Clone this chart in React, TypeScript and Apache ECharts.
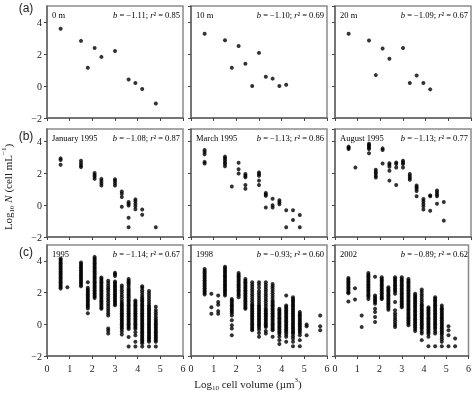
import React, { useEffect, useRef } from "react";
import * as echarts from "echarts";

type Pt = [number, number];
type Col = [number, number[]];

// Row (a): depth panels
const depth0m: Pt[] = [[0.6, 3.58], [1.5, 2.82], [1.8, 1.14], [2.1, 2.38], [2.4, 1.82], [3.0, 2.19], [3.6, 0.41], [3.9, 0.19], [4.2, -0.19], [4.8, -1.1]];
const depth10m: Pt[] = [[0.6, 3.27], [1.5, 2.86], [1.8, 1.14], [2.1, 2.5], [2.4, 1.39], [2.7, 0.0], [3.0, 2.07], [3.3, 0.58], [3.6, 0.46], [3.9, 0.0], [4.2, 0.08]];
const depth20m: Pt[] = [[0.6, 3.27], [1.5, 2.84], [1.8, 0.68], [2.1, 2.34], [2.4, 1.7], [3.0, 2.38], [3.3, 0.19], [3.6, 0.66], [3.9, 0.19], [4.2, -0.21]];

// Row (b): months of 1995
const jan1995: Col[] = [
  [0.6, [2.95, 2.85, 2.55]],
  [1.5, [2.8, 2.65, 2.5, 2.4]],
  [2.1, [2.03, 1.9, 1.8, 1.66]],
  [2.4, [1.66, 1.53, 1.39, 1.24]],
  [3.0, [1.64, 1.53, 1.39, 1.24]],
  [3.3, [0.87, 0.72, 0.52, -0.1]],
  [3.6, [0.21, 0.1, -0.02, -0.79, -1.39]],
  [3.9, [0.37, 0.25, 0.1, -0.06, -0.25]],
  [4.2, [-0.27, -0.6]],
  [4.8, [-1.39]],
];
const mar1995: Col[] = [
  [0.6, [3.48, 3.35, 3.21, 2.73, 2.63]],
  [1.5, [3.06, 2.96, 2.84, 2.71, 2.59, 2.46]],
  [1.8, [1.18]],
  [2.1, [2.67, 2.26, 2.0]],
  [2.4, [1.97, 1.86, 1.76, 1.28, 1.04]],
  [3.0, [2.07, 1.97, 1.86, 1.55, 1.28]],
  [3.3, [0.77, 0.68, 0.6, -0.14]],
  [3.6, [0.41, 0.0, -0.14]],
  [3.9, [0.31, 0.19, 0.06]],
  [4.2, [-0.31, -1.39]],
  [4.5, [-0.31, -0.93]],
  [4.8, [-0.62, -1.39]],
];
const aug1995: Col[] = [
  [0.6, [3.69, 3.62, 3.54]],
  [0.9, [2.38]],
  [1.5, [3.87, 3.79, 3.71, 3.62, 3.54, 3.27]],
  [1.8, [2.24, 2.11, 2.0, 1.86, 1.74]],
  [2.1, [3.58, 3.48, 2.63]],
  [2.4, [2.65, 2.55, 2.42, 2.17, 1.55]],
  [2.7, [2.69, 2.59, 2.38, 1.28]],
  [3.0, [2.8, 2.69, 2.59, 2.38]],
  [3.3, [1.97, 1.84, 1.72, 1.61]],
  [3.6, [1.24, 1.14, 1.04, 0.89, 0.56]],
  [3.9, [0.39, 0.25, 0.1, -0.06, -0.27]],
  [4.2, [0.62, 0.56, -0.35]],
  [4.5, [0.93, 0.81, 0.68, 0.56, 0.1]],
  [4.8, [0.21, -0.97]],
];

// Row (c): years
const year1995: Col[] = [
  [0.6, [4.15, 4.05, 3.95, 3.85, 3.75, 3.65, 3.55, 3.45, 3.35, 3.25, 3.15, 3.05, 2.95, 2.85, 2.75, 2.65, 2.55, 2.45, 2.35, 2.25]],
  [0.9, [2.33]],
  [1.5, [3.9, 3.8, 3.7, 3.6, 3.5, 3.4, 3.3, 3.2, 3.1, 3.0, 2.9, 2.8, 2.7, 2.6, 2.5, 2.4]],
  [1.8, [2.65, 2.3, 2.2, 2.1, 2.0, 1.9, 1.8, 1.7, 1.6, 1.5, 1.4, 1.3, 1.2, 1.1, 1.0, 0.7]],
  [2.1, [4.25, 4.15, 4.05, 3.95, 3.85, 3.75, 3.65, 3.55, 3.45, 3.35, 3.25, 3.15, 3.05, 2.95, 2.85, 2.75, 2.65, 2.55, 2.45, 2.35, 2.25, 2.15, 2.05, 1.95, 1.85, 1.75, 1.65]],
  [2.4, [2.95, 2.85, 2.75, 2.65, 2.55, 2.45, 2.35, 2.25, 2.15, 2.05, 1.95, 1.85, 1.75, 1.65, 1.55, 1.45, 1.35, 1.25, 1.15, 1.05, 0.98]],
  [2.7, [2.75, 2.6, 2.45, 2.3, 2.2, 2.05, 1.9, 1.75, 1.6, 1.45, 1.3, 1.15, 1.0, 0.85, 0.7, 0.56, -0.27, -0.4, -0.58]],
  [3.0, [3.25, 3.15, 3.05, 2.7, 2.6, 2.5, 2.4, 2.3, 2.2, 2.1, 2.0, 1.9, 1.8, 1.7, 1.6, 1.5, 1.4, 1.3, 1.2]],
  [3.3, [2.44, 2.3, 2.15, 2.0, 1.85, 1.7, 1.55, 1.4, 1.3, 1.2, 1.1, 1.0, 0.9, 0.8, 0.7, 0.6, 0.5, 0.4, 0.3, 0.2, 0.1, 0.0, -0.1, -0.2, -0.3, -0.45, -0.65]],
  [3.6, [2.85, 2.75, 2.65, 2.55, 2.45, 2.3, 2.2, 2.1, 2.0, 1.9, 1.8, 1.7, 1.6, 1.5, 1.4, 1.3, 1.2, 1.1, 1.0, 0.9, 0.8, 0.7, 0.6, 0.5, 0.4, 0.3, 0.2, 0.1, 0.0, -0.1, -0.2, -0.3, -0.8, -1.4]],
  [3.9, [1.5, 1.4, 1.3, 1.2, 1.1, 1.0, 0.9, 0.8, 0.7, 0.6, 0.5, 0.4, 0.3, 0.2, 0.1, 0.0, -0.1, -0.2, -0.3, -0.5, -0.7, -1.1, -1.4]],
  [4.2, [2.4, 2.3, 2.15, 2.0, 1.85, 1.7, 1.6, 1.5, 1.4, 1.3, 1.2, 1.1, 1.0, 0.9, 0.8, 0.7, 0.6, 0.5, 0.4, 0.3, 0.2, 0.1, 0.0, -0.1, -0.2, -0.3, -0.4, -0.5, -0.6, -0.7, -0.8, -0.9, -1.0, -1.1, -1.2, -1.4]],
  [4.5, [2.1, 1.95, 1.8, 1.65, 1.5, 1.35, 1.2, 1.1, 1.0, 0.9, 0.8, 0.7, 0.6, 0.5, 0.4, 0.3, 0.2, 0.1, 0.0, -0.1, -0.2, -0.3, -0.4, -0.5, -0.6, -0.7, -0.8, -0.9, -1.0, -1.1, -1.4]],
  [4.8, [1.1, 0.9, 0.75, 0.6, 0.45, 0.3, 0.2, 0.1, 0.0, -0.1, -0.2, -0.3, -0.4, -0.5, -0.6, -0.7, -0.8, -0.9, -1.0, -1.1, -1.4]],
];
const year1998: Col[] = [
  [0.6, [3.48, 3.38, 3.28, 3.18, 3.08, 2.98, 2.88, 2.78, 2.68, 2.58, 2.48, 2.38, 2.28, 2.18, 2.08, 1.98, 1.88]],
  [0.9, [1.92, 1.08, 0.67]],
  [1.2, [1.81, 1.4, 1.23, 0.83, 0.67]],
  [1.5, [3.63, 3.53, 3.43, 3.33, 3.23, 3.13, 3.03, 2.93, 2.83, 2.73, 2.63, 2.53, 2.43, 2.33, 2.23, 2.13, 2.03, 1.93, 1.81]],
  [1.8, [1.6, 1.5, 1.4, 1.3, 1.2, 1.1, 1.0, 0.9, 0.8, 0.7, 0.56, 0.25, -0.06, -0.27, -0.69]],
  [2.1, [3.23, 3.13, 3.03, 2.93, 2.83, 2.73, 2.63, 2.53, 2.43, 2.33, 2.23, 2.13, 2.03, 1.93, 1.83, 1.71]],
  [2.4, [2.85, 2.75, 2.65, 2.55, 2.45, 2.35, 2.25, 2.15, 2.05, 1.95, 1.85, 1.75, 1.65, 1.55, 1.45, 1.35, 1.25, 1.15, 1.05, 0.98]],
  [2.7, [2.65, 2.5, 2.35, 2.2, 2.05, 1.9, 1.75, 1.6, 1.45, 1.3, 1.2, 1.1, 1.0, 0.9, 0.8, 0.7, 0.6, 0.5, 0.4, 0.3, 0.2, 0.1, 0.0, -0.1, -0.2, -0.3, -0.38]],
  [3.0, [2.65, 2.5, 2.3, 2.1, 1.95, 1.8, 1.65, 1.5, 1.35, 1.2, 1.1, 1.0, 0.9, 0.8, 0.7, 0.6, 0.5, 0.4, 0.3, 0.2, 0.1, 0.0, -0.1, -0.2, -0.35, -0.55, -0.79]],
  [3.3, [2.65, 2.5, 2.35, 2.2, 2.05, 1.9, 1.75, 1.6, 1.45, 1.3, 1.15, 1.0, 0.9, 0.8, 0.7, 0.6, 0.5, 0.4, 0.3, 0.2, 0.1, 0.0, -0.1, -0.17, -0.42, -0.58]],
  [3.6, [2.54, 2.4, 2.25, 2.1, 1.95, 1.8, 1.65, 1.5, 1.4, 1.3, 1.2, 1.1, 1.0, 0.9, 0.8, 0.7, 0.6, 0.5, 0.4, 0.3, 0.2, 0.1, 0.0, -0.1, -0.2, -0.3, -0.38, -0.79]],
  [3.9, [0.98, 0.88, 0.78, 0.68, 0.58, 0.48, 0.38, 0.28, 0.18, 0.08, -0.02, -0.12, -0.22, -0.32, -0.42, -0.52, -0.62, -0.79, -1.0, -1.25]],
  [4.2, [1.81, 1.19, 1.09, 0.99, 0.89, 0.79, 0.69, 0.59, 0.49, 0.39, 0.29, 0.19, 0.09, -0.01, -0.11, -0.21, -0.31, -0.41, -0.51, -0.65, -0.79, -1.1]],
  [4.5, [1.71, 1.6, 1.5, 1.4, 1.3, 1.2, 1.1, 1.0, 0.9, 0.8, 0.7, 0.6, 0.5, 0.4, 0.3, 0.2, 0.1, 0.0, -0.1, -0.2, -0.3, -0.4, -0.5, -0.6, -0.75, -0.9, -1.1, -1.38]],
  [4.8, [0.77, 0.67, 0.57, 0.47, 0.37, 0.27, 0.17, 0.07, -0.03, -0.13, -0.23, -0.33, -0.43, -0.53, -0.69, -1.0, -1.38]],
  [5.1, [-0.02, -0.12, -0.69]],
  [5.7, [0.56, -0.12, -0.38]],
];
const year2002: Col[] = [
  [0.6, [2.92, 2.82, 2.72, 2.62, 2.52, 2.42, 2.32, 2.22, 2.12, 2.02, 1.96, 1.44]],
  [0.9, [2.27, 1.56]],
  [1.2, [0.56, -0.17]],
  [1.5, [3.23, 3.13, 3.03, 2.93, 2.83, 2.73, 2.63, 2.53, 2.43, 2.33, 2.23, 2.13, 2.03, 1.93, 1.83, 1.73, 1.6]],
  [1.8, [3.0, 1.81, 1.7, 1.6, 1.5, 1.4, 1.29, 0.98, 0.77, 0.46, 0.15]],
  [2.1, [2.96, 2.86, 2.76, 2.66, 2.56, 2.46, 2.36, 2.26, 2.16, 2.06, 1.96, 1.86, 1.76, 1.66, 1.6]],
  [2.4, [2.33, 2.23, 2.13, 2.03, 1.93, 1.83, 1.73, 1.63, 1.53, 1.43, 1.33, 1.23, 1.13, 1.03, 0.92]],
  [2.7, [2.96, 2.86, 2.76, 2.66, 2.56, 2.46, 2.36, 2.26, 2.16, 2.06, 1.92, 1.4, 0.88, 0.7, 0.55, 0.4, 0.25, 0.1, -0.05, -0.17]],
  [3.0, [2.96, 2.86, 2.76, 2.66, 2.56, 2.46, 2.36, 2.26, 2.16, 2.06, 1.96, 1.86, 1.76, 1.66, 1.56, 1.46, 1.36, 1.26, 1.16, 1.08]],
  [3.3, [2.85, 2.75, 2.65, 2.55, 2.45, 2.35, 2.25, 2.15, 2.05, 1.95, 1.85, 1.75, 1.65, 1.55, 1.45, 1.35, 1.25, 1.15, 1.05, 0.95, 0.85, 0.75, 0.65, 0.55, 0.45, 0.35, 0.25, 0.15, 0.05, -0.06]],
  [3.6, [1.92, 1.82, 1.72, 1.62, 1.52, 1.42, 1.32, 1.22, 1.12, 1.02, 0.92, 0.82, 0.72, 0.62, 0.52, 0.42, 0.32, 0.22, 0.12, 0.02, -0.08, -0.18, -0.3, -0.42]],
  [3.9, [2.2, 2.05, 1.9, 1.75, 1.6, 1.45, 1.3, 1.2, 1.1, 1.0, 0.9, 0.8, 0.7, 0.6, 0.5, 0.4, 0.3, 0.2, 0.1, 0.0, -0.1, -0.2, -0.3, -0.45, -0.58, -1.0]],
  [4.2, [1.08, 0.98, 0.88, 0.78, 0.68, 0.58, 0.48, 0.38, 0.28, 0.18, 0.08, -0.02, -0.12, -0.22, -0.32, -0.42, -0.52, -0.62, -0.79, -1.38]],
  [4.5, [1.71, 1.6, 1.5, 1.4, 1.3, 1.2, 1.1, 1.0, 0.9, 0.8, 0.7, 0.6, 0.5, 0.4, 0.3, 0.2, 0.1, 0.0, -0.1, -0.2, -0.3, -0.45, -0.58, -1.38]],
  [4.8, [1.19, 1.05, 0.95, 0.85, 0.75, 0.65, 0.55, 0.45, 0.35, 0.25, 0.15, 0.05, -0.05, -0.15, -0.25, -0.35, -0.45, -0.55, -0.65, -0.8, -0.95, -1.1, -1.38]],
  [5.1, [-0.12, -0.38, -0.69, -1.38]],
  [5.4, [-0.9, -1.38]],
];

const panelTitles = ["0 m", "10 m", "20 m", "January 1995", "March 1995", "August 1995", "1995", "1998", "2002"];
const slopes = ["−1.11", "−1.10", "−1.09", "−1.08", "−1.13", "−1.13", "−1.14", "−0.93", "−0.89"];
const r2s = ["0.85", "0.69", "0.67", "0.87", "0.86", "0.77", "0.67", "0.60", "0.62"];
const rowLetters = ["(a)", "(b)", "(c)"];
const xTicks = { min: 0, max: 6, interval: 1 };
const yMin = -2;
const yInterval = 2;

const flatten = (cols: Col[]): Pt[] => {
  const out: Pt[] = [];
  cols.forEach(([x, ys]) => ys.forEach((y) => out.push([x, y])));
  return out;
};

const panelData: Pt[][] = [
  depth0m, depth10m, depth20m,
  flatten(jan1995), flatten(mar1995), flatten(aug1995),
  flatten(year1995), flatten(year1998), flatten(year2002),
];

const SERIF = "'Liberation Serif', 'Times New Roman', serif";
const SANS = "'Liberation Sans', Arial, sans-serif";

export default function App() {
  const ref = useRef<HTMLDivElement>(null);
  useEffect(() => {
    if (!ref.current) return;
    const chart = echarts.init(ref.current, undefined, { renderer: "svg" });
    const colLeft = [47, 191, 335];
    const colW = 136;
    const rowTop = [6, 129, 245];
    const rowH = [112, 108, 111];
    const rowMax = [5, 4.8, 5];

    const grids: any[] = [];
    const xAxes: any[] = [];
    const yAxes: any[] = [];
    const series: any[] = [];
    const graphics: any[] = [];
    const minus = (v: any) => String(v).replace("-", "−");

    for (let r = 0; r < 3; r++) {
      for (let c = 0; c < 3; c++) {
        const i = r * 3 + c;
        grids.push({
          left: colLeft[c], top: rowTop[r], width: colW, height: rowH[r],
          show: true, borderColor: "#8a8a8a", borderWidth: 1.5, backgroundColor: "transparent",
        });
        xAxes.push({
          type: "value", gridIndex: i, ...xTicks,
          axisLine: { show: true, onZero: false, lineStyle: { color: "#666", width: 1.5 } },
          axisTick: { show: true, length: 3, lineStyle: { color: "#444" } },
          axisLabel: { show: r === 2, fontSize: 10, fontFamily: SERIF, color: "#222", margin: 7 },
          splitLine: { show: false },
        });
        yAxes.push({
          type: "value", gridIndex: i, min: yMin, max: rowMax[r], interval: yInterval,
          axisLine: { show: true, onZero: false, lineStyle: { color: "#666", width: 1.5 } },
          axisTick: { show: true, length: 3, lineStyle: { color: "#444" } },
          axisLabel: {
            show: c === 0, fontSize: 10, fontFamily: SERIF, color: "#222", margin: 5,
            formatter: minus, showMaxLabel: false,
          },
          splitLine: { show: false },
        });
        series.push({
          type: "scatter", xAxisIndex: i, yAxisIndex: i, data: panelData[i],
          symbolSize: 4, itemStyle: { color: "#000" }, silent: true,
        });
        graphics.push({
          type: "text", x: colLeft[c] + 5, y: rowTop[r] + 9,
          style: {
            text: panelTitles[i], fontSize: 8.5, fontFamily: SERIF, fill: "#000",
            align: "left", verticalAlign: "middle", textAlign: "left", textVerticalAlign: "middle",
          },
        });
        graphics.push({
          type: "text", x: colLeft[c] + colW - 3, y: rowTop[r] + 9,
          style: {
            text: `{i|b} = ${slopes[i]}; {i|r}² = ${r2s[i]}`,
            rich: { i: { fontStyle: "italic", fontSize: 8.5, fontFamily: SERIF, fill: "#000" } },
            fontSize: 8.5, fontFamily: SERIF, fill: "#000",
            align: "right", verticalAlign: "middle", textAlign: "right", textVerticalAlign: "middle",
          },
        });
      }
    }
    const letterY = [7.5, 136, 252];
    rowLetters.forEach((t, r) => {
      graphics.push({
        type: "text", x: 26, y: letterY[r],
        style: {
          text: t, fontSize: 12, fontFamily: SANS, fill: "#222",
          align: "center", verticalAlign: "middle", textAlign: "center", textVerticalAlign: "middle",
        },
      });
    });
    const rich = {
      sub: { fontSize: 7, fontFamily: SERIF, fill: "#222", verticalAlign: "bottom", lineHeight: 15 },
      sup: { fontSize: 7, fontFamily: SERIF, fill: "#222", verticalAlign: "top", lineHeight: 15 },
      i: { fontSize: 11, fontStyle: "italic", fontFamily: SERIF, fill: "#222", lineHeight: 15 },
      n: { fontSize: 11, fontFamily: SERIF, fill: "#222", lineHeight: 15 },
    };
    graphics.push({
      type: "text", x: 8, y: 187, rotation: Math.PI / 2,
      style: {
        text: "{n|Log}{sub|10}{n| }{i|N}{n| (cell mL}{sup|−1}{n|)}", rich,
        fontSize: 11, fontFamily: SERIF, fill: "#222",
        align: "center", verticalAlign: "middle", textAlign: "center", textVerticalAlign: "middle",
      },
    });
    graphics.push({
      type: "text", x: 248, y: 384,
      style: {
        text: "{n|Log}{sub|10}{n| cell volume (µm}{sup|3}{n|)}", rich,
        fontSize: 11, fontFamily: SERIF, fill: "#222",
        align: "center", verticalAlign: "middle", textAlign: "center", textVerticalAlign: "middle",
      },
    });

    chart.setOption({
      animation: false,
      backgroundColor: "#fff",
      grid: grids,
      xAxis: xAxes,
      yAxis: yAxes,
      series,
      graphic: { elements: graphics },
    });
    return () => chart.dispose();
  }, []);
  return (
    <div
      ref={ref}
      style={{ position: "fixed", left: 0, top: 0, width: 474, height: 393, background: "#fff", filter: "grayscale(1)" }}
    />
  );
}
